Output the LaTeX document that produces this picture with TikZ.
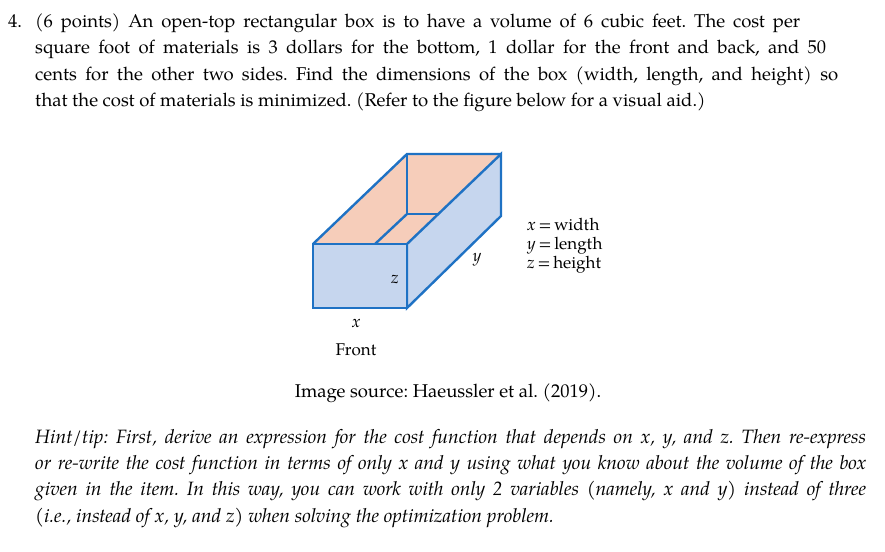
\documentclass[tikz,border=0pt]{standalone}
\usepackage{fontspec}
\setmainfont{TeX Gyre Pagella}
\frenchspacing
\definecolor{edge}{HTML}{1F72C4}
\definecolor{peach}{HTML}{F6CDBA}
\definecolor{lblue}{HTML}{C6D6EE}
\tikzset{txt/.style={anchor=base west,inner sep=0pt,font=\fontsize{18.5}{22}\selectfont},
 itxt/.style={anchor=base west,inner sep=0pt,font=\fontsize{19.3}{22}\selectfont\itshape},
 face/.style={draw=edge,line width=2.4pt,line join=miter},
 lab/.style={inner sep=0pt,font=\fontsize{17}{20}\selectfont}}
\begin{document}
\begin{tikzpicture}[x=1pt,y=-1pt]
\useasboundingbox (0,0) rectangle (885,551);
\node[txt] (n4) at (8,28) {4.};
\node[txt] (l1) at (35,28) {\makebox[765pt][s]{(6 points) An open-top rectangular box is to have a volume of 6 cubic feet. The cost per}};
\node[txt] (l2) at (35,54) {\makebox[791pt][s]{square foot of materials is 3 dollars for the bottom, 1 dollar for the front and back, and 50}};
\node[txt] (l3) at (35,80) {\makebox[803pt][s]{cents for the other two sides. Find the dimensions of the box (width, length, and height) so}};
\node[txt] (l4) at (35,106) {that the cost of materials is minimized. (Refer to the figure below for a visual aid.)};
% box
\fill[peach] (313,244) -- (407,154) -- (501,154) -- (407,244) -- cycle;
\draw[face,fill=lblue] (407,244) -- (501,154) -- (501,216) -- (407,308) -- cycle;
\draw[face,fill=lblue] (313,244) rectangle (407,308);
\draw[face] (313,244) -- (407,154) -- (501,154);
\draw[face] (407,154) -- (407,214) -- (438,214);
\draw[face] (407,214) -- (375,244);
\node[lab] (z) at (395,279) {\textit{z}};
\node[lab] (y) at (477,260) {\textit{y}};
\node[lab] (x) at (356,323) {\textit{x}};
\node[lab] (fr) at (356,350) {Front};
\node[lab,anchor=west,align=left] (leg) at (527,246) {\textit{x}\,=\,width\\[-1pt]\textit{y}\,=\,length\\[-1pt]\textit{z}\,=\,height};
\node[txt,anchor=base] (src) at (448,397) {Image source: Haeussler et al. (2019).};
\node[itxt] (h1) at (35,443) {\makebox[831pt][s]{Hint/tip: First, derive an expression for the cost function that depends on x, y, and z. Then re-express}};
\node[itxt] (h2) at (35,469) {\makebox[831pt][s]{or re-write the cost function in terms of only x and y using what you know about the volume of the box}};
\node[itxt] (h3) at (35,495) {\makebox[831pt][s]{given in the item. In this way, you can work with only 2 variables (namely, x and y) instead of three}};
\node[itxt] (h4) at (35,522) {(i.e., instead of x, y, and z) when solving the optimization problem.};
\end{tikzpicture}
\end{document}
